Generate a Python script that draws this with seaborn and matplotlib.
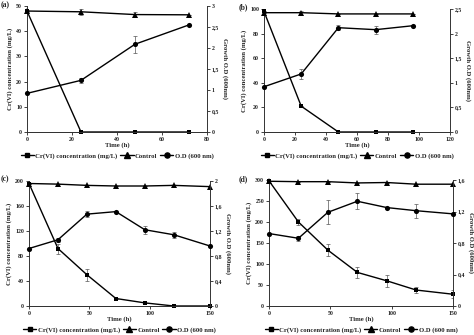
import numpy as np
import pandas as pd
import matplotlib
matplotlib.use("Agg")
import matplotlib.pyplot as plt
from matplotlib.ticker import FuncFormatter, MultipleLocator
from matplotlib.lines import Line2D
import seaborn as sns

sns.set_style("ticks")
plt.rcParams['font.family'] = ['Liberation Serif', 'DejaVu Serif']
plt.rcParams['font.weight'] = 'bold'

# ---------------- data ----------------
time_a = [0, 24, 48, 72]
cr_a = [48, 0, 0, 0]
cr_err_a = [0, 0, 0, 0]
ctrl_a = [48, 47.7, 46.6, 46.5]
ctrl_err_a = [0.5, 1.2, 1.0, 0]
od_a = [0.92, 1.23, 2.09, 2.55]
od_err_a = [0, 0.06, 0.2, 0]

time_b = [0, 24, 48, 72, 96]
cr_b = [98, 21, 0, 0, 0]
cr_err_b = [0, 0, 0, 0, 0]
ctrl_b = [97, 97, 96, 96, 96]
ctrl_err_b = [0, 1.5, 0, 0, 0]
od_b = [0.92, 1.18, 2.12, 2.08, 2.16]
od_err_b = [0, 0.1, 0.05, 0.08, 0]

time_c = [0, 24, 48, 72, 96, 120, 150]
cr_c = [196, 92, 50, 12, 5, 0, 0]
cr_err_c = [0, 8, 10, 0, 0, 0, 0]
ctrl_c = [196, 195, 193, 192, 192, 193, 191]
ctrl_err_c = [0, 0, 0, 0, 0, 0, 0]
od_c = [0.92, 1.06, 1.47, 1.51, 1.22, 1.14, 0.96]
od_err_c = [0, 0.03, 0.05, 0, 0.06, 0.05, 0]

time_d = [0, 24, 48, 72, 96, 120, 150]
cr_d = [298, 200, 133, 80, 60, 38, 28]
cr_err_d = [0, 8, 15, 13, 14, 8, 10]
ctrl_d = [297, 296, 296, 293, 294, 290, 290]
ctrl_err_d = [0, 0, 0, 0, 0, 0, 0]
od_d = [0.92, 0.86, 1.19, 1.33, 1.25, 1.21, 1.17]
od_err_d = [0, 0.03, 0.15, 0.1, 0, 0.09, 0]

panel_labels = ["(a)", "(b)", "(c)", "(d)"]
legend_labels = ["Cr(VI) concentration (mg/L)", "Control", "O.D (600 nm)"]
left_label = "Cr(VI) concentration (mg/L)"
right_label = "Growth O.D (600nm)"
x_label = "Time (h)"

panels = [
    dict(t=time_a, cr=cr_a, cre=cr_err_a, ct=ctrl_a, cte=ctrl_err_a, od=od_a, ode=od_err_a,
         xlim=80, xstep=20, ylim=50, ystep=10, rlim=3, rstep=0.5,
         pos=[27/474, 1-132/335, 180/474, 126/335], lab=(1, 1)),
    dict(t=time_b, cr=cr_b, cre=cr_err_b, ct=ctrl_b, cte=ctrl_err_b, od=od_b, ode=od_err_b,
         xlim=120, xstep=20, ylim=100, ystep=20, rlim=2.5, rstep=0.5,
         pos=[264/474, 1-132/335, 186/474, 123/335], lab=(239, 3)),
    dict(t=time_c, cr=cr_c, cre=cr_err_c, ct=ctrl_c, cte=ctrl_err_c, od=od_c, ode=od_err_c,
         xlim=150, xstep=50, ylim=200, ystep=40, rlim=2, rstep=0.4,
         pos=[29/474, 1-306/335, 181/474, 125/335], lab=(1, 175)),
    dict(t=time_d, cr=cr_d, cre=cr_err_d, ct=ctrl_d, cte=ctrl_err_d, od=od_d, ode=od_err_d,
         xlim=150, xstep=50, ylim=300, ystep=50, rlim=1.6, rstep=0.4,
         pos=[269/474, 1-306/335, 184/474, 126/335], lab=(239, 175)),
]

fig = plt.figure(figsize=(4.74, 3.35), dpi=100)
fs_tick = 4.2
fs_lab = 4.8
lw = 1.0
ms = 3.4

comma = FuncFormatter(lambda v, p: (f"{v:.1f}".rstrip('0').rstrip('.')).replace('.', ','))
ekw = dict(fmt='none', ecolor='#555555', elinewidth=0.5, capsize=1.2, capthick=0.5)

for i, p in enumerate(panels):
    ax = fig.add_axes(p['pos'])
    ax2 = ax.twinx()
    df = pd.DataFrame({'t': p['t'], 'cr': p['cr'], 'ct': p['ct'], 'od': p['od']})
    sns.lineplot(data=df, x='t', y='cr', ax=ax, color='black', marker='s', markersize=ms,
                 linewidth=lw, markeredgewidth=0, clip_on=False, zorder=3)
    sns.lineplot(data=df, x='t', y='ct', ax=ax, color='black', marker='^', markersize=ms + 0.4,
                 linewidth=lw, markeredgewidth=0, clip_on=False, zorder=3)
    sns.lineplot(data=df, x='t', y='od', ax=ax2, color='black', marker='o', markersize=ms + 0.3,
                 linewidth=lw, markeredgewidth=0, clip_on=False, zorder=3)
    ax.errorbar(p['t'], p['cr'], yerr=p['cre'], **ekw)
    ax.errorbar(p['t'], p['ct'], yerr=p['cte'], **ekw)
    ax2.errorbar(p['t'], p['od'], yerr=p['ode'], **ekw)

    ax.set_xlim(0, p['xlim'])
    ax.set_ylim(0, p['ylim'])
    ax2.set_ylim(0, p['rlim'])
    ax.xaxis.set_major_locator(MultipleLocator(p['xstep']))
    ax.yaxis.set_major_locator(MultipleLocator(p['ystep']))
    ax2.yaxis.set_major_locator(MultipleLocator(p['rstep']))
    ax2.yaxis.set_major_formatter(comma)

    for a in (ax, ax2):
        a.spines['top'].set_visible(False)
        for s in a.spines.values():
            s.set_linewidth(0.7)
            s.set_color('#333333')
        a.tick_params(labelsize=fs_tick, length=2, width=0.6, pad=1.5, colors='#222222')
    ax2.spines['left'].set_visible(False)
    ax.spines['right'].set_visible(False)

    ax.set_xlabel(x_label, fontsize=fs_lab, fontweight='bold', labelpad=0.5)
    ax.set_ylabel(left_label, fontsize=fs_lab, fontweight='bold', labelpad=2)
    ax2.set_ylabel(right_label, fontsize=fs_lab, fontweight='bold', rotation=270, labelpad=6)

    handles = [Line2D([], [], color='black', marker='s', markersize=ms, lw=lw),
               Line2D([], [], color='black', marker='^', markersize=ms + 0.4, lw=lw),
               Line2D([], [], color='black', marker='o', markersize=ms + 0.3, lw=lw)]
    ax.legend(handles, legend_labels, loc='center', bbox_to_anchor=(0.5, -24 / (p['pos'][3] * 335)),
              ncol=3, frameon=False, handlelength=2.0, handletextpad=0.2,
              columnspacing=0.4, borderaxespad=0, borderpad=0,
              prop={'weight': 'bold', 'size': fs_lab})

    fig.text(p['lab'][0] / 474, 1 - p['lab'][1] / 335, panel_labels[i],
             fontsize=5.5, fontweight='bold', ha='left', va='top')

fig.savefig("out.png", dpi=100)
